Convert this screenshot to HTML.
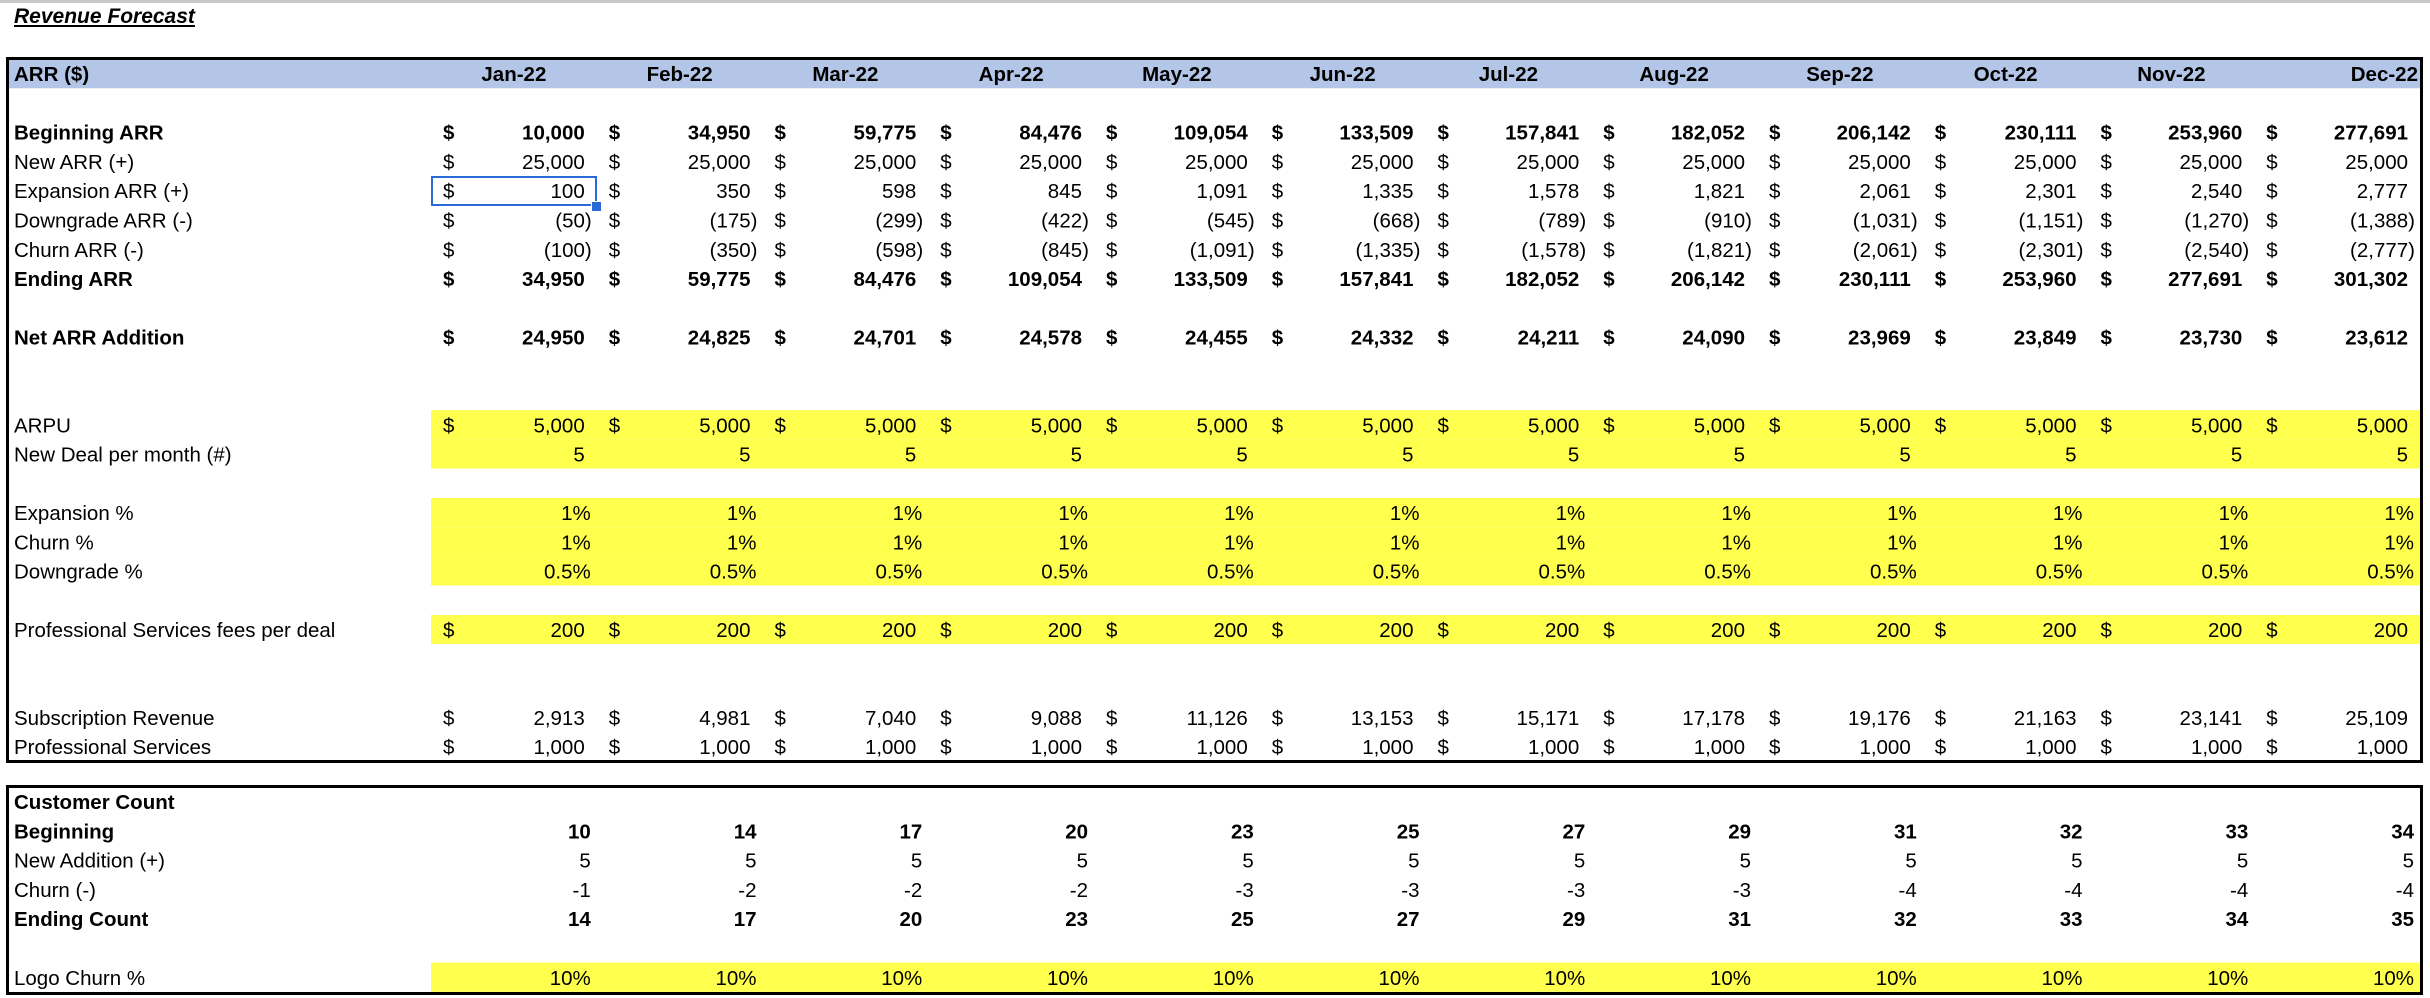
<!DOCTYPE html>
<html><head><meta charset="utf-8"><style>
body{margin:0;width:2430px;height:998px;background:#fff;position:relative;overflow:hidden}
.top{position:absolute;left:0;top:0;width:2430px;height:3px;background:#c8c8c8}
.title{position:absolute;left:14px;top:5px;font:italic bold 21px "Liberation Sans",sans-serif;text-decoration:underline}
table{position:absolute;left:8px;border-collapse:collapse;table-layout:fixed;width:2412px;font:20.5px "Liberation Sans",sans-serif;color:#000;transform-origin:0 0;transform:scaleY(1.009)}
td{padding:0 12px 0 12px;height:29px;box-sizing:border-box;white-space:nowrap;text-align:right;vertical-align:bottom;line-height:26px;overflow:hidden}
td:first-child{text-align:left;padding-left:6px;overflow:visible}
tr.b td{font-weight:bold}
tr.h td{background:#b4c6e7;font-weight:bold;text-align:center}
tr.h td:first-child{text-align:left}
tr.h td:last-child{text-align:right;padding-right:2px}
tr.n td{padding-right:6px}
tr.y td+td{background:#ffff4d}
s{float:left;text-decoration:none}
u{text-decoration:none;margin-right:-7px}
.box{position:absolute;border:3px solid #000;box-sizing:border-box;z-index:2}
.sel{position:absolute;left:431px;top:176px;width:166px;height:30px;border:2px solid #2a6ad6;box-sizing:border-box;z-index:3}
.hd{position:absolute;left:591px;top:201px;width:9px;height:9px;background:#2a6ad6;border:1px solid #fff;z-index:4}
</style></head><body>
<div class="top"></div>
<div class="title">Revenue Forecast</div>
<div class="box" style="left:6px;top:57px;width:2417px;height:706px"></div>
<div class="box" style="left:6px;top:785px;width:2417px;height:210px"></div>
<div class="sel"></div><div class="hd"></div>
<table style="top:59px">
<colgroup><col style="width:423px"><col span="12" style="width:165.75px"></colgroup>
<tr class="h"><td>ARR ($)</td><td>Jan-22</td><td>Feb-22</td><td>Mar-22</td><td>Apr-22</td><td>May-22</td><td>Jun-22</td><td>Jul-22</td><td>Aug-22</td><td>Sep-22</td><td>Oct-22</td><td>Nov-22</td><td>Dec-22</td></tr>
<tr><td></td><td></td><td></td><td></td><td></td><td></td><td></td><td></td><td></td><td></td><td></td><td></td><td></td></tr>
<tr class="b"><td>Beginning ARR</td><td><s>$</s>10,000</td><td><s>$</s>34,950</td><td><s>$</s>59,775</td><td><s>$</s>84,476</td><td><s>$</s>109,054</td><td><s>$</s>133,509</td><td><s>$</s>157,841</td><td><s>$</s>182,052</td><td><s>$</s>206,142</td><td><s>$</s>230,111</td><td><s>$</s>253,960</td><td><s>$</s>277,691</td></tr>
<tr><td>New ARR (+)</td><td><s>$</s>25,000</td><td><s>$</s>25,000</td><td><s>$</s>25,000</td><td><s>$</s>25,000</td><td><s>$</s>25,000</td><td><s>$</s>25,000</td><td><s>$</s>25,000</td><td><s>$</s>25,000</td><td><s>$</s>25,000</td><td><s>$</s>25,000</td><td><s>$</s>25,000</td><td><s>$</s>25,000</td></tr>
<tr><td>Expansion ARR (+)</td><td><s>$</s>100</td><td><s>$</s>350</td><td><s>$</s>598</td><td><s>$</s>845</td><td><s>$</s>1,091</td><td><s>$</s>1,335</td><td><s>$</s>1,578</td><td><s>$</s>1,821</td><td><s>$</s>2,061</td><td><s>$</s>2,301</td><td><s>$</s>2,540</td><td><s>$</s>2,777</td></tr>
<tr><td>Downgrade ARR (-)</td><td><s>$</s>(50<u>)</u></td><td><s>$</s>(175<u>)</u></td><td><s>$</s>(299<u>)</u></td><td><s>$</s>(422<u>)</u></td><td><s>$</s>(545<u>)</u></td><td><s>$</s>(668<u>)</u></td><td><s>$</s>(789<u>)</u></td><td><s>$</s>(910<u>)</u></td><td><s>$</s>(1,031<u>)</u></td><td><s>$</s>(1,151<u>)</u></td><td><s>$</s>(1,270<u>)</u></td><td><s>$</s>(1,388<u>)</u></td></tr>
<tr><td>Churn ARR (-)</td><td><s>$</s>(100<u>)</u></td><td><s>$</s>(350<u>)</u></td><td><s>$</s>(598<u>)</u></td><td><s>$</s>(845<u>)</u></td><td><s>$</s>(1,091<u>)</u></td><td><s>$</s>(1,335<u>)</u></td><td><s>$</s>(1,578<u>)</u></td><td><s>$</s>(1,821<u>)</u></td><td><s>$</s>(2,061<u>)</u></td><td><s>$</s>(2,301<u>)</u></td><td><s>$</s>(2,540<u>)</u></td><td><s>$</s>(2,777<u>)</u></td></tr>
<tr class="b"><td>Ending ARR</td><td><s>$</s>34,950</td><td><s>$</s>59,775</td><td><s>$</s>84,476</td><td><s>$</s>109,054</td><td><s>$</s>133,509</td><td><s>$</s>157,841</td><td><s>$</s>182,052</td><td><s>$</s>206,142</td><td><s>$</s>230,111</td><td><s>$</s>253,960</td><td><s>$</s>277,691</td><td><s>$</s>301,302</td></tr>
<tr><td></td><td></td><td></td><td></td><td></td><td></td><td></td><td></td><td></td><td></td><td></td><td></td><td></td></tr>
<tr class="b"><td>Net ARR Addition</td><td><s>$</s>24,950</td><td><s>$</s>24,825</td><td><s>$</s>24,701</td><td><s>$</s>24,578</td><td><s>$</s>24,455</td><td><s>$</s>24,332</td><td><s>$</s>24,211</td><td><s>$</s>24,090</td><td><s>$</s>23,969</td><td><s>$</s>23,849</td><td><s>$</s>23,730</td><td><s>$</s>23,612</td></tr>
<tr><td></td><td></td><td></td><td></td><td></td><td></td><td></td><td></td><td></td><td></td><td></td><td></td><td></td></tr>
<tr><td></td><td></td><td></td><td></td><td></td><td></td><td></td><td></td><td></td><td></td><td></td><td></td><td></td></tr>
<tr class="y"><td>ARPU</td><td><s>$</s>5,000</td><td><s>$</s>5,000</td><td><s>$</s>5,000</td><td><s>$</s>5,000</td><td><s>$</s>5,000</td><td><s>$</s>5,000</td><td><s>$</s>5,000</td><td><s>$</s>5,000</td><td><s>$</s>5,000</td><td><s>$</s>5,000</td><td><s>$</s>5,000</td><td><s>$</s>5,000</td></tr>
<tr class="y"><td>New Deal per month (#)</td><td>5</td><td>5</td><td>5</td><td>5</td><td>5</td><td>5</td><td>5</td><td>5</td><td>5</td><td>5</td><td>5</td><td>5</td></tr>
<tr><td></td><td></td><td></td><td></td><td></td><td></td><td></td><td></td><td></td><td></td><td></td><td></td><td></td></tr>
<tr class="y n"><td>Expansion %</td><td>1%</td><td>1%</td><td>1%</td><td>1%</td><td>1%</td><td>1%</td><td>1%</td><td>1%</td><td>1%</td><td>1%</td><td>1%</td><td>1%</td></tr>
<tr class="y n"><td>Churn %</td><td>1%</td><td>1%</td><td>1%</td><td>1%</td><td>1%</td><td>1%</td><td>1%</td><td>1%</td><td>1%</td><td>1%</td><td>1%</td><td>1%</td></tr>
<tr class="y n"><td>Downgrade %</td><td>0.5%</td><td>0.5%</td><td>0.5%</td><td>0.5%</td><td>0.5%</td><td>0.5%</td><td>0.5%</td><td>0.5%</td><td>0.5%</td><td>0.5%</td><td>0.5%</td><td>0.5%</td></tr>
<tr><td></td><td></td><td></td><td></td><td></td><td></td><td></td><td></td><td></td><td></td><td></td><td></td><td></td></tr>
<tr class="y"><td>Professional Services fees per deal</td><td><s>$</s>200</td><td><s>$</s>200</td><td><s>$</s>200</td><td><s>$</s>200</td><td><s>$</s>200</td><td><s>$</s>200</td><td><s>$</s>200</td><td><s>$</s>200</td><td><s>$</s>200</td><td><s>$</s>200</td><td><s>$</s>200</td><td><s>$</s>200</td></tr>
<tr><td></td><td></td><td></td><td></td><td></td><td></td><td></td><td></td><td></td><td></td><td></td><td></td><td></td></tr>
<tr><td></td><td></td><td></td><td></td><td></td><td></td><td></td><td></td><td></td><td></td><td></td><td></td><td></td></tr>
<tr><td>Subscription Revenue</td><td><s>$</s>2,913</td><td><s>$</s>4,981</td><td><s>$</s>7,040</td><td><s>$</s>9,088</td><td><s>$</s>11,126</td><td><s>$</s>13,153</td><td><s>$</s>15,171</td><td><s>$</s>17,178</td><td><s>$</s>19,176</td><td><s>$</s>21,163</td><td><s>$</s>23,141</td><td><s>$</s>25,109</td></tr>
<tr><td>Professional Services</td><td><s>$</s>1,000</td><td><s>$</s>1,000</td><td><s>$</s>1,000</td><td><s>$</s>1,000</td><td><s>$</s>1,000</td><td><s>$</s>1,000</td><td><s>$</s>1,000</td><td><s>$</s>1,000</td><td><s>$</s>1,000</td><td><s>$</s>1,000</td><td><s>$</s>1,000</td><td><s>$</s>1,000</td></tr>
</table>
<table style="top:787px">
<colgroup><col style="width:423px"><col span="12" style="width:165.75px"></colgroup>
<tr class="b n"><td>Customer Count</td><td></td><td></td><td></td><td></td><td></td><td></td><td></td><td></td><td></td><td></td><td></td><td></td></tr>
<tr class="b n"><td>Beginning</td><td>10</td><td>14</td><td>17</td><td>20</td><td>23</td><td>25</td><td>27</td><td>29</td><td>31</td><td>32</td><td>33</td><td>34</td></tr>
<tr class="n"><td>New Addition (+)</td><td>5</td><td>5</td><td>5</td><td>5</td><td>5</td><td>5</td><td>5</td><td>5</td><td>5</td><td>5</td><td>5</td><td>5</td></tr>
<tr class="n"><td>Churn (-)</td><td>-1</td><td>-2</td><td>-2</td><td>-2</td><td>-3</td><td>-3</td><td>-3</td><td>-3</td><td>-4</td><td>-4</td><td>-4</td><td>-4</td></tr>
<tr class="b n"><td>Ending Count</td><td>14</td><td>17</td><td>20</td><td>23</td><td>25</td><td>27</td><td>29</td><td>31</td><td>32</td><td>33</td><td>34</td><td>35</td></tr>
<tr><td></td><td></td><td></td><td></td><td></td><td></td><td></td><td></td><td></td><td></td><td></td><td></td><td></td></tr>
<tr class="y n"><td>Logo Churn %</td><td>10%</td><td>10%</td><td>10%</td><td>10%</td><td>10%</td><td>10%</td><td>10%</td><td>10%</td><td>10%</td><td>10%</td><td>10%</td><td>10%</td></tr>
</table>
</body></html>
